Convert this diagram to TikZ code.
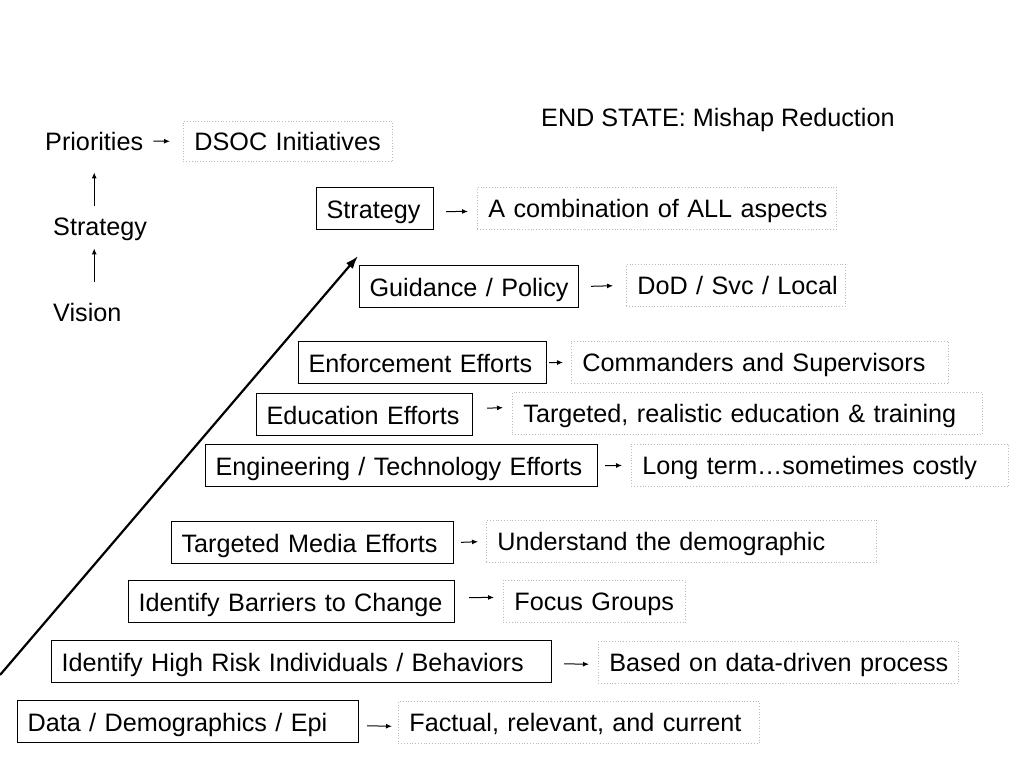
\documentclass[tikz,border=0pt]{standalone}
\usepackage{fontspec}
\setmainfont{Liberation Sans}
\usetikzlibrary{arrows.meta}

\begin{document}
\begin{tikzpicture}[x=1pt, y=-1pt,
    font=\fontsize{25.2}{30}\selectfont,
    plain/.style ={inner sep=0pt, anchor=base west},
    effort/.style ={draw, line width=1.2pt, anchor=north west, minimum height=42pt,
        inner xsep=10pt, inner ysep=0pt, align=left, text height=21pt, text depth=2pt,
        execute at begin node={\hbox\bgroup}, execute at end node={\egroup}},
    aspect/.style ={effort, draw=gray!55, line width=0.8pt, dotted, inner xsep=11pt},
    link/.style ={-{Latex[length=6pt,width=5pt]}, line width=1pt}]
   \useasboundingbox (0,0) rectangle (1024,768);

   \node[plain] (endstate) at (541,126) {END STATE: Mishap Reduction};
   \node[plain] (prio)   at (45,150)  {Priorities};
   \node[plain] (strlbl) at (53,235)  {Strategy};
   \node[plain] (vision) at (53,321)  {Vision};
   \node[aspect, minimum height=40pt, text width=187pt] (dsoc) at (183,121) {DSOC Initiatives};

   \node[effort, text width=97pt]  (strat) at (316,187) {Strategy};
   \node[effort, text width=199pt] (guid)  at (359,265) {Guidance / Policy};
   \node[effort, text width=228pt] (enf)   at (298,341) {Enforcement Efforts};
   \node[effort, text width=196pt] (edu)   at (256,393) {Education Efforts};
   \node[effort, text width=372pt] (eng)   at (205,444) {Engineering / Technology Efforts};
   \node[effort, text width=262pt] (media) at (171,521) {Targeted Media Efforts};
   \node[effort, text width=306pt] (barr)  at (128,580) {Identify Barriers to Change};
   \node[effort, text width=480pt] (risk)  at (51,640)  {Identify High Risk Individuals / Behaviors};
   \node[effort, text width=321pt] (data)  at (17,700)  {Data / Demographics / Epi};

   \node[aspect, text width=337pt] (comb)  at (477,187) {A combination of ALL aspects};
   \node[aspect, text width=197pt] (dod)   at (626,264) {DoD / Svc / Local};
   \node[aspect, text width=355pt] (cmd)   at (571,341) {Commanders and Supervisors};
   \node[aspect, text width=448pt] (trg)   at (512,392) {Targeted, realistic education \& training};
   \node[aspect, text width=355pt] (lterm) at (631,444) {Long term…sometimes costly};
   \node[aspect, text width=368pt] (und)   at (486,520) {Understand the demographic};
   \node[aspect, text width=160pt] (focus) at (503,580) {Focus Groups};
   \node[aspect, text width=338pt] (based) at (598,641) {Based on data-driven process};
   \node[aspect, text width=339pt] (fact)  at (398,701) {Factual, relevant, and current};

   \coordinate (base) at (0,675);
   \coordinate (peak) at (358,256);

   \draw[link, shorten <=21pt, shorten >=8pt] (vision.north -| prio.south) -- (strlbl.south -| prio.south);
   \draw[link, shorten <=11pt, shorten >=22pt] (strlbl.north -| prio.south) -- (prio.south);
   \draw[link, shorten <=10pt, shorten >=13pt] (prio.east) to (dsoc.west);

   \draw[link, shorten <=12pt, shorten >=9pt]  ([yshift=-3pt]strat.east) to ([yshift=-3pt]comb.west);
   \draw[link, shorten <=12pt, shorten >=13pt] (guid.east) to (dod.west);
   \draw[link, shorten <=2pt, shorten >=8pt]   (enf.east) to (cmd.west);
   \draw[link, shorten <=14pt, shorten >=9pt]  ([yshift=6pt]edu.east) to ([yshift=6pt]trg.west);
   \draw[link, shorten <=7pt, shorten >=9pt]   (eng.east) to (lterm.west);
   \draw[link, shorten <=7pt, shorten >=8pt]   (media.east) to (und.west);
   \draw[link, shorten <=14pt, shorten >=9pt]  ([yshift=4pt]barr.east) to ([yshift=4pt]focus.west);
   \draw[link, shorten <=12pt, shorten >=9pt]  ([yshift=-2pt]risk.east) to ([yshift=-2pt]based.west);
   \draw[link, shorten <=8pt, shorten >=6pt]   ([yshift=-4pt]data.east) to ([yshift=-4pt]fact.west);

   \draw[-{Latex[length=13pt,width=9pt]}, line width=2.2pt] (base) to (peak);

 \end{tikzpicture}
\end{document}
